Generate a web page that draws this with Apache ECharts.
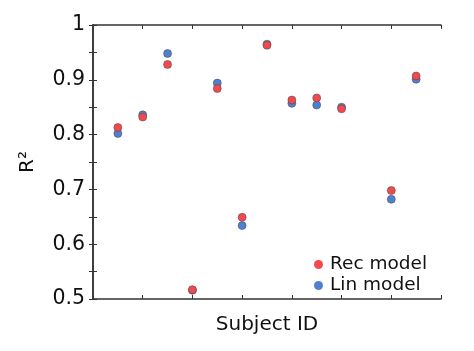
<!DOCTYPE html>
<html>
<head>
<meta charset="utf-8">
<script src="https://cdn.jsdelivr.net/npm/echarts@6/dist/echarts.min.js"></script>
<style>html,body{margin:0;padding:0;background:#fff}#c{width:474px;height:351px}</style>
</head>
<body>
<div id="c"></div>
<script>
const subjects = [1, 2, 3, 4, 5, 6, 7, 8, 9, 10, 12, 13];
const recModel = [0.813, 0.832, 0.928, 0.517, 0.884, 0.649, 0.963, 0.863, 0.867, 0.847, 0.698, 0.907];
const linModel = [0.802, 0.836, 0.948, 0.516, 0.894, 0.634, 0.965, 0.857, 0.854, 0.850, 0.682, 0.901];
const yTickLabels = {'0.5': '0.5', '0.6': '0.6', '0.7': '0.7', '0.8': '0.8', '0.9': '0.9', '1': '1'};

const FONT = 'DejaVu Sans';
const axisCol = '#333';
const chart = echarts.init(document.getElementById('c'));
const common = {
  axisLine: {show: true, lineStyle: {color: axisCol, width: 1.5}},
  axisTick: {show: true, inside: true, length: 4, lineStyle: {color: axisCol, width: 1}},
  splitLine: {show: false}
};
chart.setOption({
  animation: false,
  backgroundColor: '#fff',
  grid: {left: 93, right: 33, top: 25, bottom: 52},
  legend: {
    orient: 'vertical', left: 309, top: 250, itemGap: 2,
    itemWidth: 9, itemHeight: 9, icon: 'circle',
    itemStyle: {borderWidth: 0},
    textStyle: {fontFamily: FONT, fontSize: 18.5, color: '#111', padding: [0, 0, 0, 2]},
    data: ['Rec model', 'Lin model']
  },
  xAxis: [
    Object.assign({type: 'value', min: 0, max: 14, interval: 2, axisLabel: {show: false},
      name: 'Subject ID', nameLocation: 'middle', nameGap: 16,
      nameTextStyle: {fontFamily: FONT, fontSize: 20, color: '#111'}}, common),
    Object.assign({type: 'value', min: 0, max: 14, interval: 2, position: 'top', axisLabel: {show: false}}, common)
  ],
  yAxis: [
    Object.assign({type: 'value', min: 0.5, max: 1, interval: 0.05,
      axisLabel: {margin: 8, fontFamily: FONT, fontSize: 20.5, color: '#111',
        formatter: v => { const k = String(+v.toFixed(2)); return yTickLabels[k] || ''; }},
      name: 'R²', nameLocation: 'middle', nameGap: 55, nameRotate: 90,
      nameTextStyle: {fontFamily: FONT, fontSize: 20, color: '#111'}}, common),
    Object.assign({type: 'value', min: 0.5, max: 1, interval: 0.05, position: 'right', axisLabel: {show: false}}, common)
  ],
  series: [
    {name: 'Lin model', type: 'scatter', symbolSize: 8, z: 2,
      itemStyle: {color: '#4f80d0', borderColor: '#444', borderWidth: 0.5, opacity: 1},
      data: subjects.map((s, i) => [s, linModel[i]])},
    {name: 'Rec model', type: 'scatter', symbolSize: 8, z: 3,
      itemStyle: {color: '#f04a50', borderColor: '#444', borderWidth: 0.5, opacity: 1},
      data: subjects.map((s, i) => [s, recModel[i]])}
  ]
});
</script>
</body>
</html>
